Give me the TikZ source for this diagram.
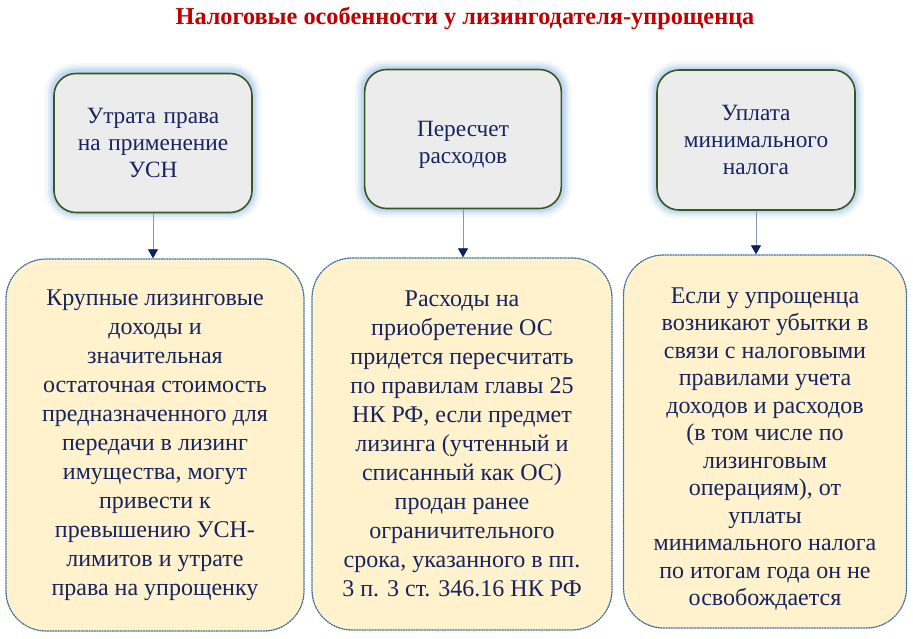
\documentclass[tikz,border=0pt]{standalone}
\usepackage{fontspec}
\setmainfont{Liberation Serif}
\usetikzlibrary{arrows.meta}
\definecolor{titlered}{RGB}{192,0,0}
\definecolor{txt}{RGB}{22,36,96}
\definecolor{topfill}{RGB}{236,236,236}
\definecolor{topedge}{RGB}{56,87,35}
\definecolor{glow}{RGB}{157,195,230}
\definecolor{botfill}{RGB}{255,242,204}
\definecolor{botedge}{RGB}{65,113,156}
\definecolor{linec}{RGB}{132,151,176}
\definecolor{headc}{RGB}{13,31,92}
\tikzset{
  topbox/.style={rectangle, rounded corners=22pt, fill=topfill, draw=topedge, line width=1.6pt,
     minimum width=198pt, minimum height=139pt, text width=190pt, align=center,
     font=\fontsize{23.3}{27}\selectfont, text=txt},
  glowbox/.style={rectangle, fill=glow, draw=none},
  botbox/.style={rectangle, rounded corners=40pt, fill=botfill, draw=botedge, line width=1.3pt,
     dash pattern=on 1.3pt off 1.3pt, line cap=round, minimum height=372pt, align=center,
     font=\fontsize{24}{29}\selectfont, text=txt},
  plaintext/.style={align=center, text=txt},
  conn/.style={draw=linec, line width=0.8pt, -{Triangle[length=9pt,width=10pt,fill=headc,color=headc]}}
}
\begin{document}
\begin{tikzpicture}[x=1pt,y=-1pt]
\useasboundingbox (0,0) rectangle (913,639);
\node[font=\bfseries\fontsize{24.3}{28}\selectfont, text=titlered] (title) at (465,18) {Налоговые особенности у лизингодателя-упрощенца};
% glows
\foreach \cx/\cy in {153/142, 463/139, 756/140}{
  \node[glowbox, opacity=0.15, rounded corners=30pt, minimum width=216pt, minimum height=157pt] at (\cx,\cy) {};
  \node[glowbox, opacity=0.25, rounded corners=27pt, minimum width=210pt, minimum height=151pt] at (\cx,\cy) {};
  \node[glowbox, opacity=0.4, rounded corners=25pt, minimum width=205pt, minimum height=146pt] at (\cx,\cy) {};
}
\node[topbox] (t1) at (153,143) {Утрата права\\на применение\\УСН};
\node[topbox, minimum width=196pt] (t2) at (463,139) {};
\node[plaintext, font=\fontsize{23.3}{27}\selectfont] (t2t) at (463,145) {Пересчет\\расходов};
\node[topbox, minimum height=140pt] (t3) at (756,140) {Уплата\\минимального\\налога};
\node[botbox, minimum width=298pt] (b1) at (155,445) {Крупные лизинговые\\доходы и\\значительная\\остаточная стоимость\\предназначенного для\\передачи в лизинг\\имущества, могут\\привести к\\превышению УСН-\\лимитов и утрате\\права на упрощенку};
\node[botbox, minimum width=300pt] (b2) at (462,444) {Расходы на\\приобретение ОС\\придется пересчитать\\по правилам главы 25\\НК РФ, если предмет\\лизинга (учтенный и\\списанный как ОС)\\продан ранее\\ограничительного\\срока, указанного в пп.\\3 п. 3 ст. 346.16 НК РФ};
\node[botbox, minimum width=283pt, minimum height=373pt] (b3) at (765,441.5) {};
\node[plaintext, font=\fontsize{24}{27.5}\selectfont] (b3t) at (765,449) {Если у упрощенца\\возникают убытки в\\связи с налоговыми\\правилами учета\\доходов и расходов\\(в том числе по\\лизинговым\\операциям), от\\уплаты\\минимального налога\\по итогам года он не\\освобождается};
\draw[conn] (t1.south) -- (t1.south |- b1.north);
\draw[conn] (t2.south) -- (t2.south |- b2.north);
\draw[conn] (t3.south) -- (t3.south |- b3.north);
\end{tikzpicture}
\end{document}
